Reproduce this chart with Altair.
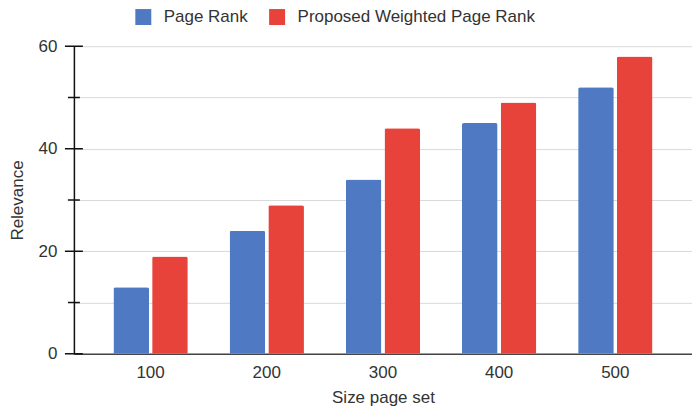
import altair as alt
import pandas as pd

sizes = ["100", "200", "300", "400", "500"]
series = ["Page Rank", "Proposed Weighted Page Rank"]
page_rank = [13, 24, 34, 45, 52]
weighted_page_rank = [19, 29, 44, 49, 58]
colors = ["#4f7ac3", "#e8433a"]
major_ticks = [0, 20, 40, 60]
minor_ticks = [10, 30, 50]
grid_values = [0, 10, 20, 30, 40, 50, 60]

rows = []
for s, a, b in zip(sizes, page_rank, weighted_page_rank):
    rows.append({"size": s, "series": series[0], "value": a})
    rows.append({"size": s, "series": series[1], "value": b})
df = pd.DataFrame(rows)

FONT = "Liberation Sans"
FS = 17

bars = alt.Chart(df).mark_bar(cornerRadiusTopLeft=2, cornerRadiusTopRight=2).encode(
    x=alt.X(
        "size:N",
        sort=sizes,
        scale=alt.Scale(paddingInner=0.36, paddingOuter=0.34),
        axis=alt.Axis(
            title="Size page set",
            labelAngle=0,
            ticks=False,
            labelPadding=11,
            titlePadding=9,
            domainColor="#444444",
            domainWidth=1.5,
        ),
    ),
    xOffset=alt.XOffset("series:N", sort=series, scale=alt.Scale(paddingInner=0.08)),
    y=alt.Y(
        "value:Q",
        scale=alt.Scale(domain=[0, 60], nice=False),
        axis=alt.Axis(
            title="Relevance",
            values=grid_values,
            labelExpr="datum.value % 20 == 0 ? datum.label : ''",
            ticks=False,
            labelPadding=17,
            titlePadding=12,
            domainColor="#111111",
            domainWidth=1.5,
            gridColor="#d9d9d9",
        ),
    ),
    color=alt.Color(
        "series:N",
        sort=series,
        scale=alt.Scale(domain=series, range=colors),
        legend=alt.Legend(
            title=None,
            orient="none",
            direction="horizontal",
            legendX=61,
            legendY=-38,
            symbolType="square",
            symbolSize=256,
            symbolStrokeWidth=0,
            symbolOpacity=1,
            labelFontSize=FS,
            labelColor="#333333",
            labelOffset=12,
            labelLimit=400,
            columnPadding=20,
        ),
    ),
)

major = alt.Chart(pd.DataFrame({"v": major_ticks})).mark_rule(color="#111111", strokeWidth=1.5).encode(
    y="v:Q", x=alt.value(-9), x2=alt.value(9)
)
minor = alt.Chart(pd.DataFrame({"v": minor_ticks})).mark_rule(color="#111111", strokeWidth=1.5).encode(
    y="v:Q", x=alt.value(-6), x2=alt.value(6)
)

chart = alt.layer(bars, major, minor).properties(
    width=619,
    height=308,
    padding={"left": 0, "right": 0, "top": 0, "bottom": 0},
).configure_view(stroke=None).configure_axis(
    labelFont=FONT,
    titleFont=FONT,
    labelFontSize=FS,
    titleFontSize=FS,
    labelColor="#333333",
    titleColor="#333333",
    titleFontWeight="normal",
).configure_legend(labelFont=FONT)

chart.save("out.html", embed_options={"renderer": "svg", "actions": False})
